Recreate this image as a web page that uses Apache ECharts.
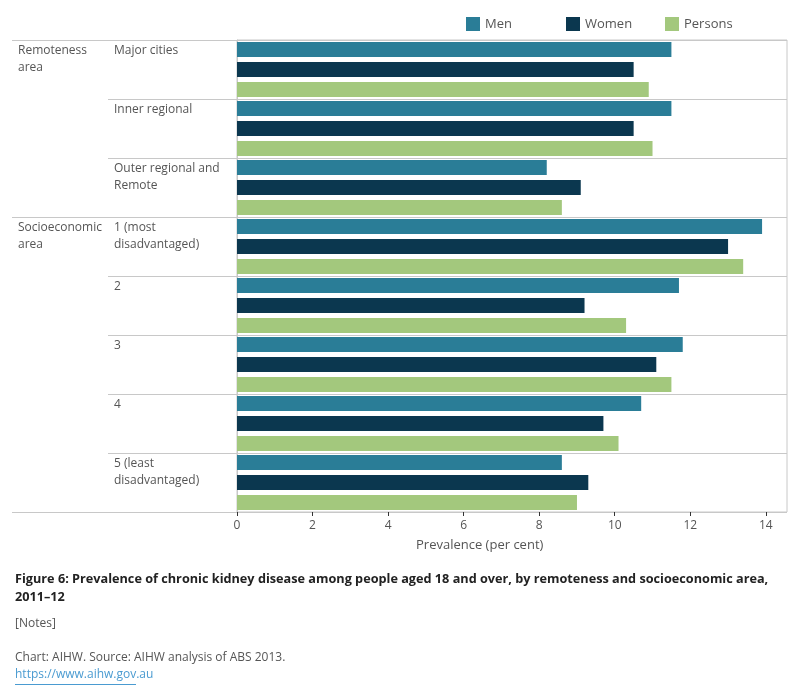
<!DOCTYPE html>
<html>
<head>
<meta charset="utf-8">
<script src="https://cdn.jsdelivr.net/npm/echarts@6/dist/echarts.min.js"></script>
<style>html,body{margin:0;padding:0;background:#fff}#c{width:800px;height:700px}</style>
</head>
<body>
<div id="c"></div>
<script>
const categories = ["Major cities", "Inner regional", "Outer regional and\nRemote", "1 (most\ndisadvantaged)", "2", "3", "4", "5 (least\ndisadvantaged)"];
const groupNames = ["Remoteness\narea", "", "", "Socioeconomic\narea", "", "", "", ""];
const men = [11.5, 11.5, 8.2, 13.9, 11.7, 11.8, 10.7, 8.6];
const women = [10.5, 10.5, 9.1, 13.0, 9.2, 11.1, 9.7, 9.3];
const persons = [10.9, 11.0, 8.6, 13.4, 10.3, 11.5, 10.1, 9.0];
const xTicks = [0, 2, 4, 6, 8, 10, 12, 14];
const seriesNames = ["Men", "Women", "Persons"];

const FONT = "'Open Sans', 'Noto Sans', sans-serif";
const GREY = '#c8c8c8';
const TXT = '#555555';

// pad label into a fixed-height block so text sits at the top of its band
function padBlock(s) {
  const lines = s.split('\n');
  const out = lines.map(l => '{t|' + l + '}');
  while (out.length < 3) out.push('{t| }');
  out.push('{s| }');
  return out.join('\n');
}
const labelRich = {
  t: {color: TXT, fontSize: 12, lineHeight: 17, fontFamily: FONT},
  s: {fontSize: 4, lineHeight: 4, height: 4}
};

const legendLefts = [461, 561, 660];
const legends = seriesNames.map((n, i) => ({
  left: legendLefts[i], top: 12, itemWidth: 14, itemHeight: 14, icon: 'rect',
  data: [n], selectedMode: false,
  textStyle: {color: TXT, fontSize: 13, fontFamily: FONT}
}));

const chart = echarts.init(document.getElementById('c'), null, {renderer: 'canvas'});
chart.setOption({
  animation: false,
  textStyle: {fontFamily: FONT},
  color: ['#2a7d97', '#0b374f', '#a3c87d'],
  legend: legends,
  grid: {left: 237, right: 13, top: 40, bottom: 188, show: true, borderColor: GREY, borderWidth: 1},
  xAxis: {
    type: 'value', min: 0, max: 14.56,
    axisLine: {show: false},
    splitLine: {show: false},
    axisTick: {show: true, length: 4, lineStyle: {color: '#333'}, customValues: xTicks},
    axisLabel: {color: TXT, fontSize: 12, margin: 8, fontFamily: FONT, customValues: xTicks}
  },
  yAxis: [{
    type: 'category', inverse: true, data: categories,
    axisLine: {show: true, lineStyle: {color: GREY}},
    axisTick: {show: true, length: 129, interval: 0, lineStyle: {color: GREY}},
    splitLine: {show: true, interval: 0, lineStyle: {color: GREY}},
    axisLabel: {
      interval: 0, margin: 123, align: 'left', verticalAlign: 'middle',
      color: TXT, fontSize: 12, fontFamily: FONT, rich: labelRich,
      formatter: v => padBlock(v)
    }
  }, {
    type: 'category', inverse: true, data: categories, position: 'left',
    axisLine: {show: false},
    axisTick: {show: true, length: 225, interval: (i) => groupNames[i] !== '', lineStyle: {color: GREY}},
    splitLine: {show: false},
    axisLabel: {
      interval: 0, margin: 219, align: 'left', verticalAlign: 'middle',
      color: TXT, fontSize: 12, fontFamily: FONT, rich: labelRich,
      formatter: (v, i) => groupNames[i] ? padBlock(groupNames[i]) : ''
    }
  }],
  series: [
    {name: seriesNames[0], type: 'bar', data: men, barWidth: 15, barGap: '33.33%'},
    {name: seriesNames[1], type: 'bar', data: women, barWidth: 15, barGap: '33.33%'},
    {name: seriesNames[2], type: 'bar', data: persons, barWidth: 15, barGap: '33.33%'}
  ],
  graphic: [
    {type: 'text', left: 416, top: 539, style: {text: 'Prevalence (per cent)', fill: TXT, font: '13px ' + FONT}},
    {type: 'text', left: 15, top: 570, style: {text: 'Figure 6: Prevalence of chronic kidney disease among people aged 18 and over, by remoteness and socioeconomic area,\n2011–12', fill: '#222', font: 'bold 12.7px ' + FONT, lineHeight: 18}},
    {type: 'text', left: 15, top: 618, style: {text: '[Notes]', fill: TXT, font: '12px ' + FONT}},
    {type: 'text', left: 15, top: 652, style: {text: 'Chart: AIHW. Source: AIHW analysis of ABS 2013.', fill: TXT, font: '12px ' + FONT}},
    {type: 'text', left: 15, top: 669, style: {text: 'https://www.aihw.gov.au', fill: '#4a9bd1', font: '12px ' + FONT}},
    {type: 'rect', left: 15, top: 684, shape: {width: 121, height: 1}, style: {fill: '#4a9bd1'}}
  ]
});
</script>
</body>
</html>
